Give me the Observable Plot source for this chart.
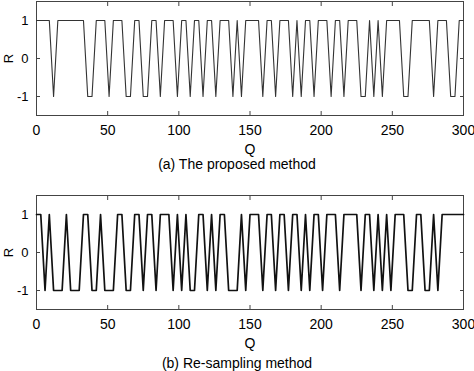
<!DOCTYPE html>
<html>
<head>
<meta charset="utf-8">
<script src="https://cdn.jsdelivr.net/npm/d3@7"></script>
<script src="https://cdn.jsdelivr.net/npm/@observablehq/plot@0.6"></script>
<style>
  html, body { margin: 0; padding: 0; background: #fff; }
  #wrap { position: relative; width: 474px; height: 371px; overflow: hidden; background: #fff;
          font-family: "Liberation Sans", Arial, sans-serif; color: #000; }
  .panel { position: absolute; left: 0; }
  .cap { position: absolute; left: 0; width: 474px; text-align: center; font-size: 14px; line-height: 14px; }
</style>
</head>
<body>
<div id="wrap">
  <div class="panel" id="pa" style="top:0px"></div>
  <div class="cap" style="top:157px">(a) The proposed method</div>
  <div class="panel" id="pb" style="top:180px"></div>
  <div class="cap" style="top:356px">(b) Re-sampling method</div>
</div>
<script>
const Q = [0,3,6,9,12,15,18,21,24,27,30,33,36,39,42,45,48,51,54,57,60,63,66,69,72,75,78,81,84,87,
  90,93,96,99,102,105,108,111,114,117,120,123,126,129,132,135,138,141,144,147,150,153,156,159,162,165,168,171,174,177,
  180,183,186,189,192,195,198,201,204,207,210,213,216,219,222,225,228,231,234,237,240,243,246,249,252,255,258,261,264,267,
  270,273,276,279,282,285,288,291,294,297,300];

// (a) The proposed method
const R_proposed = [
  1,1,1,1,-1,1,1,1,1,1,1,1,-1,-1,1,1,1,-1,1,1,
  1,-1,-1,1,1,-1,-1,1,1,-1,1,1,1,-1,1,1,-1,1,1,-1,
  1,1,-1,1,1,1,-1,1,-1,1,1,1,1,-1,1,1,-1,1,1,1,
  -1,1,-1,1,1,-1,1,1,1,-1,1,1,-1,1,1,1,-1,-1,1,-1,
  1,-1,1,1,1,1,-1,-1,1,1,1,1,1,-1,1,1,1,-1,-1,1,
  1];

// (b) Re-sampling method
const R_resampling = [
  1,1,-1,1,-1,-1,-1,1,-1,-1,-1,1,1,-1,-1,1,-1,-1,-1,1,
  1,-1,-1,1,1,-1,1,1,-1,1,1,1,-1,1,-1,1,-1,-1,1,1,
  -1,1,-1,1,1,-1,-1,-1,1,-1,1,1,1,-1,1,1,-1,1,1,-1,
  1,1,-1,1,-1,1,1,-1,1,1,1,-1,1,1,1,1,-1,1,1,-1,
  1,-1,1,-1,1,1,1,-1,-1,1,1,-1,-1,1,-1,1,1,1,1,1,
  1];

const xTicks = [0,50,100,150,200,250,300];
const xTickLabels = ["0","50","100","150","200","250","300"];
const yTicks = [-1,0,1];
const yTickLabels = ["-1","0","1"];

function panel(R, opts) {
  const data = Q.map((q, i) => ({Q: q, R: R[i]}));
  const blank = () => "";
  return Plot.plot({
    width: 474,
    height: opts.height,
    marginLeft: 36,
    marginRight: 11,
    marginTop: opts.marginTop,
    marginBottom: 40,
    x: {domain: [0, 300]},
    y: {domain: [-1.5, 1.5]},
    style: {fontFamily: '"Liberation Sans", Arial, sans-serif', fontSize: "13px", color: "#000", background: "transparent", overflow: "visible"},
    marks: [
      Plot.axisX(xTicks, {anchor: "bottom", tickSize: 0, tickPadding: 10,
        tickFormat: (d) => xTickLabels[xTicks.indexOf(d)],
        label: "Q", labelAnchor: "center", labelArrow: "none", labelOffset: 38, fontSize: 14}),
      Plot.axisX(xTicks, {anchor: "bottom", tickSize: -4, tickFormat: blank, label: null, stroke: "#444"}),
      Plot.axisX(xTicks, {anchor: "top", tickSize: -4, tickFormat: blank, label: null, stroke: "#444"}),
      Plot.axisY(yTicks, {anchor: "left", tickSize: 0, tickPadding: 8,
        tickFormat: (d) => yTickLabels[yTicks.indexOf(d)],
        label: "R", labelAnchor: "center", labelArrow: "none", labelOffset: 33, fontSize: 13}),
      Plot.axisY(yTicks, {anchor: "left", tickSize: -4, tickFormat: blank, label: null, stroke: "#444"}),
      Plot.axisY(yTicks, {anchor: "right", tickSize: -4, tickFormat: blank, label: null, stroke: "#444"}),
      Plot.frame({stroke: "#444", strokeWidth: 1}),
      Plot.line(data, {x: "Q", y: "R", stroke: opts.stroke, strokeWidth: opts.strokeWidth, curve: "linear"})
    ]
  });
}

document.getElementById("pa").appendChild(panel(R_proposed, {height: 155, marginTop: 1, stroke: "#333", strokeWidth: 1.1}));
document.getElementById("pb").appendChild(panel(R_resampling, {height: 169, marginTop: 15, stroke: "#111", strokeWidth: 1.7}));
</script>
</body>
</html>
